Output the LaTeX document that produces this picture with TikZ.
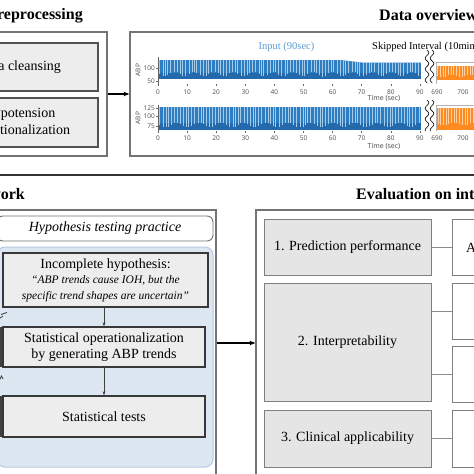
\documentclass[tikz,border=0pt]{standalone}
\usepackage{fontspec}
\setmainfont{Liberation Serif}
\newfontfamily\plotfont{Open Sans}
\usetikzlibrary{arrows.meta}
\definecolor{sigblue}{HTML}{2E7DC0}
\definecolor{sigblueL}{HTML}{A3CBEB}
\definecolor{sigblueD}{HTML}{2469AC}
\definecolor{sigorange}{HTML}{FF8A1F}
\definecolor{sigorangeL}{HTML}{FFD0A0}
\definecolor{inputblue}{HTML}{5B9BD5}
\definecolor{regionblue}{HTML}{DDE7F2}
\definecolor{regionedge}{HTML}{B4C8E2}
\begin{document}
\begin{tikzpicture}[x=1pt,y=-1pt,
  outerbox/.style={draw=black!55, line width=1.2pt, fill=none, inner sep=0pt},
  graybox/.style={draw=black!68, fill=black!7, line width=1.3pt, inner sep=0pt, align=center, font=\fontsize{14}{17}\selectfont},
  darkbox/.style={draw=black!78, fill=black!7, line width=1.4pt, inner sep=0pt, align=center, font=\fontsize{14}{16}\selectfont},
  evalbox/.style={draw=black!50, fill=black!10, line width=1pt, inner sep=0pt, align=center, font=\fontsize{14}{16}\selectfont},
  whitebox/.style={draw=black!50, fill=white, line width=1pt, inner sep=0pt},
  titletext/.style={font=\fontsize{16}{18}\selectfont\bfseries, inner sep=0pt},
  mainarrow/.style={-{Stealth[length=6pt,width=4.5pt]}, line width=1.5pt, draw=black},
  thinarrow/.style={-{Stealth[length=4pt,width=3pt]}, line width=0.6pt, draw=black!75},
  linkline/.style={draw=black!45, line width=0.8pt},
  ticklabel/.style={font=\plotfont\fontsize{6.5}{7}\selectfont, text=black!70, inner sep=0pt},
  tickmark/.style={draw=black!60, line width=0.5pt},
]
\clip (0,0) rectangle (474,474);
\fill[white] (0,0) rectangle (474,474);

% ---------- top section ----------
\node[titletext, anchor=base east] (ttlprep) at (83,19.5) {Preprocessing};
\node[titletext, anchor=base west] (ttldata) at (379,20) {Data overview};

\node[outerbox, minimum width=174pt, minimum height=124pt] (prep) at (20,94) {};
\node[graybox, minimum width=157pt, minimum height=48pt] (clean) at (19.5,67) {Data cleansing};
\node[graybox, minimum width=157pt, minimum height=49pt] (hypo) at (19.5,122.5) {Hypotension\\operationalization};

\node[outerbox, minimum width=370pt, minimum height=124pt] (dov) at (315,94) {};
\draw[mainarrow] (prep.east) -- (dov.west);

\node[font=\fontsize{10.5}{12}\selectfont, text=inputblue, inner sep=0pt] (inlbl) at (286.5,47) {Input (90sec)};
\node[font=\fontsize{10.5}{12}\selectfont, anchor=west, inner sep=0pt] (skiplbl) at (372,46.5) {Skipped Interval (10min};

% plot 1 signal
\begin{scope}
  \clip (158,60) -- (340,60) -- (362,62.5) -- (421,62.5) -- (421,79) -- (158,79) -- cycle;
  \fill[sigblue] (158,55) rectangle (421,79);
  \fill[sigblueD] (158,73) rectangle (421,79);
  \foreach \i in {0,...,89} {
    \draw[sigblueL, line width=0.7pt] ({159.5+\i*2.91+0.5*sin(\i*77)},59) -- ++(0,{15+2.5*sin(\i*53)});
  }
\end{scope}
% plot 2 signal
\begin{scope}
  \clip (158,107) rectangle (421,130);
  \fill[sigblue] (158,107) rectangle (421,130);
  \fill[sigblueD] (158,123) rectangle (421,130);
  \foreach \i in {0,...,89} {
    \draw[sigblueL, line width=0.7pt] ({159.8+\i*2.91+0.5*sin(\i*61)},107) -- ++(0,{18+2.5*sin(\i*47)});
  }
\end{scope}
% orange signals
\begin{scope}
  \clip (436,66) rectangle (480,80);
  \fill[sigorange] (436,66) rectangle (480,80);
  \foreach \i in {0,...,16} {
    \draw[sigorangeL, line width=0.6pt] ({437.5+\i*2.7},66) -- ++(0,{10+1.5*sin(\i*53)});
  }
\end{scope}
\begin{scope}
  \clip (436,108) rectangle (480,130);
  \fill[sigorange] (436,108) rectangle (480,130);
  \foreach \i in {0,...,16} {
    \draw[sigorangeL, line width=0.6pt] ({437.8+\i*2.7},108) -- ++(0,{16+1.5*sin(\i*47)});
  }
\end{scope}
% axes
\draw[tickmark] (158,57) -- (158,84);
\draw[tickmark] (158,105) -- (158,131);
\draw[black!30, line width=0.4pt] (436,62) -- (480,62) (436,62) -- (436,84);
\draw[black!30, line width=0.4pt] (436,105) -- (480,105) (436,105) -- (436,131);
\foreach \y/\t in {68/100,81/50} {
  \draw[tickmark] (156,\y) -- (158,\y);
  \node[ticklabel, anchor=east] at (155,\y) {\t};
}
\foreach \y/\t in {108/125,116.5/100,126/75} {
  \draw[tickmark] (156,\y) -- (158,\y);
  \node[ticklabel, anchor=east] at (155,\y) {\t};
}
\foreach \t in {0,10,...,90} {
  \draw[tickmark] ({158+2.91*\t},84) -- ++(0,2);
  \node[ticklabel] at ({158+2.91*\t},92) {\t};
  \draw[tickmark] ({158+2.91*\t},131) -- ++(0,2);
  \node[ticklabel] at ({158+2.91*\t},138) {\t};
}
\foreach \x/\t in {437/690,463/700} {
  \node[ticklabel] at (\x,92) {\t};
  \node[ticklabel] at (\x,138) {\t};
}
\node[ticklabel, rotate=90] at (138,70) {ABP};
\node[ticklabel, rotate=90] at (138,118) {ABP};
\node[ticklabel, font=\plotfont\fontsize{7}{8}\selectfont] at (384,98) {Time (sec)};
\node[ticklabel, font=\plotfont\fontsize{7}{8}\selectfont] at (384,146) {Time (sec)};
% break marks
\foreach \bx in {427,432} {
  \draw[black, line width=0.6pt] plot[domain=50:83, samples=40] ({\bx+1.8*sin((\x-50)*33)},\x);
  \draw[black, line width=0.6pt] plot[domain=100:131, samples=40] ({\bx+1.8*sin((\x-100)*33)},\x);
}

% separator
\draw[black!80, line width=2.5pt] (0,175) -- (474,175);

% ---------- bottom section ----------
\node[titletext, anchor=base east] (ttlfw) at (25,199) {Framework};
\node[titletext, anchor=base west] (ttlev) at (356,199) {Evaluation on int};

\node[outerbox, minimum width=226pt, minimum height=266pt] (fw) at (103,343) {};
\node[draw=black!55, line width=0.9pt, rounded corners=6pt, minimum width=216pt, minimum height=25pt, inner sep=0pt,
      font=\fontsize{14}{16}\selectfont\itshape] (htp) at (105,228.5) {Hypothesis testing practice};
\node[draw=regionedge, fill=regionblue, line width=1pt, rounded corners=8pt, minimum width=216pt, minimum height=220pt, inner sep=0pt] (region) at (105,357) {};

% partially visible elements on the left edge
\fill[black!75] (-20,327) rectangle (3,367);
\fill[black!75] (-20,396) rectangle (3,437);
\draw[black!75, line width=0.8pt] (-4,321) -- (3,316) (1,314.5) -- (7,312.5);
\draw[black!75, line width=0.8pt] (-1,381) -- (1.5,376) -- (3,379);

\node[darkbox, minimum width=205pt, minimum height=54pt] (inc) at (105.5,280)
  {Incomplete hypothesis:\\[-0.5pt]
   \fontsize{11.5}{14}\selectfont\itshape “ABP trends cause IOH, but the\\[-0.5pt]
   \fontsize{11.5}{14}\selectfont\itshape specific trend shapes are uncertain”};
\node[darkbox, minimum width=202pt, minimum height=40pt] (op) at (104,347) {Statistical operationalization\\by generating ABP trends};
\node[darkbox, minimum width=202pt, minimum height=41pt] (tests) at (104,416.5) {Statistical tests};
\draw[thinarrow] (op.north |- inc.south) -- (op.north);
\draw[thinarrow] (op.south) -- (tests.north);

\node[outerbox, minimum width=264pt, minimum height=266pt] (ev) at (388,343) {};
\draw[mainarrow] (fw.east) -- (ev.west);

\node[evalbox, minimum width=167pt, minimum height=56pt] (e1) at (347.5,247) {1. Prediction performance};
\node[evalbox, minimum width=167pt, minimum height=118pt] (e2) at (347.5,342) {2. Interpretability};
\node[evalbox, minimum width=167pt, minimum height=57pt] (e3) at (347.5,438.5) {3. Clinical applicability};

\node[whitebox, minimum width=68pt, minimum height=56pt] (w1) at (486,247) {};
\node[whitebox, minimum width=68pt, minimum height=56pt] (w2) at (486,311) {};
\node[whitebox, minimum width=68pt, minimum height=56pt] (w3) at (486,374) {};
\node[whitebox, minimum width=68pt, minimum height=57pt] (w4) at (486,438.5) {};
\node[font=\fontsize{14}{16}\selectfont, anchor=west, inner sep=0pt] (wa) at (466,248) {A};

\draw[linkline] (e1.east) -- (w1.west);
\draw[linkline] (e2.east |- w2.west) -- (w2.west);
\draw[linkline] (e2.east |- w3.west) -- (w3.west);
\draw[linkline] (e3.east) -- (w4.west);
\end{tikzpicture}
\end{document}
